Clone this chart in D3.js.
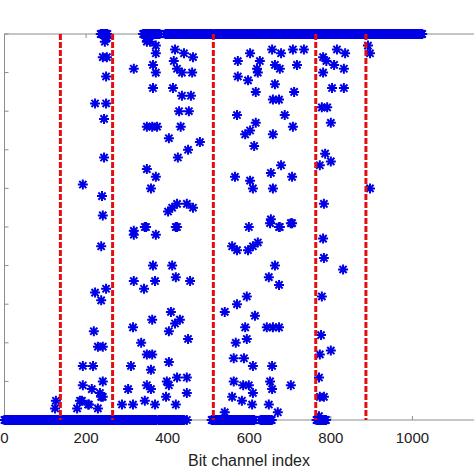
<!DOCTYPE html>
<html>
<head>
<meta charset="utf-8">
<script src="https://cdn.jsdelivr.net/npm/d3@7"></script>
<style>
  body { margin: 0; background: #fff; }
  text { font-family: "Liberation Sans", Arial, sans-serif; }
</style>
</head>
<body>
<div id="chart"></div>
<script>
// channel index ranges where error probability sits at 0 or 1
const zeroRanges = [[0, 372], [378, 440], [508, 612], [628, 655], [765, 788]];
const oneRanges = [[236, 252], [340, 380], [395, 510], [515, 1024]];

// scattered channels [index, probability]
const scatterPts = [
  [249,0.99],[241,0.94],[251,0.94],[249,0.89],[222,0.82],[249,0.82],[244,0.78],[244,0.68],[192,0.61],[239,0.58],[241,0.53],
  [317,0.91],[364,0.92],[371,0.90],[364,0.86],[349,0.76],[362,0.76],[374,0.76],[349,0.65],[371,0.63],[359,0.60],[344,0.50],[317,0.49],
  [349,0.98],[374,1.0],[371,0.97],[371,0.95],[413,0.86],[435,0.84],[457,0.84],[415,0.93],[423,0.91],[435,0.90],[460,0.90],[440,0.95],
  [462,0.94],[418,0.96],[428,0.80],[452,0.80],[432,0.76],[403,0.73],[479,0.72],[450,0.70],[425,0.68],[423,0.56],[401,0.54],[411,0.55],
  [447,0.56],[462,0.55],[420,0.50],
  [237,0.45],[222,0.33],[237,0.31],[249,0.34],[219,0.23],[229,0.19],[241,0.19],[192,0.14],[217,0.14],[192,0.09],[214,0.08],[241,0.10],
  [237,0.06],[241,0.06],[205,0.04],[190,0.05],
  [317,0.48],[347,0.50],[371,0.48],[423,0.50],[364,0.40],[411,0.40],[420,0.37],[317,0.36],[369,0.36],[342,0.34],[455,0.36],[408,0.28],
  [362,0.26],[315,0.24],[430,0.26],[418,0.25],[403,0.23],[335,0.20],[450,0.21],[349,0.17],[362,0.17],[310,0.14],[359,0.13],[403,0.15],
  [303,0.08],[349,0.09],[359,0.08],[398,0.10],[403,0.09],[423,0.11],[447,0.11],[447,0.07],[288,0.04],[315,0.04],[344,0.05],[369,0.04],
  [396,0.06],[420,0.04],[447,0.0],
  [572,1.0],[602,0.95],[626,0.93],[572,0.93],[619,0.91],[621,0.90],[572,0.89],[597,0.88],[616,0.85],[663,0.92],[675,0.91],[717,0.92],
  [656,0.96],[678,0.95],[707,0.96],[734,0.96],[663,0.87],[710,0.85],[658,0.83],[673,0.83],[687,0.79],[570,0.79],[616,0.77],[602,0.75],
  [590,0.74],[658,0.74],[707,0.76],[612,0.71],[565,0.63],[602,0.62],[609,0.60],[653,0.64],[678,0.66],[705,0.63],[658,0.60],[599,0.50],
  [653,0.52],[673,0.50],[702,0.51],
  [781,0.94],[789,0.93],[808,0.92],[832,0.91],[815,0.96],[835,0.95],[781,0.90],[803,0.86],[832,0.86],[778,0.81],[791,0.81],[800,0.77],
  [786,0.69],[800,0.67],[773,0.66],[783,0.56],
  [651,0.51],[675,0.50],[705,0.51],[558,0.45],[570,0.44],[597,0.44],[609,0.45],[621,0.46],[663,0.40],[648,0.37],[673,0.35],[594,0.32],
  [570,0.30],[540,0.28],[614,0.27],[590,0.24],[643,0.24],[658,0.24],[673,0.24],[594,0.21],[567,0.20],[562,0.16],[587,0.16],[609,0.14],
  [656,0.14],[562,0.10],[585,0.09],[599,0.09],[609,0.07],[651,0.10],[656,0.08],[702,0.09],[558,0.06],[582,0.05],[607,0.04],[648,0.04],
  [670,0.02],[540,0.02],
  [781,0.47],[783,0.42],[830,0.39],[778,0.32],[776,0.22],[773,0.17],[800,0.18],[771,0.11],[773,0.06],[783,0.06],[771,0.01],
  [896,0.60],[896,0.95],[891,0.97],
  [126,0.05],[124,0.03],[234,0.07],[185,0.05],[207,0.04],[178,0.03],[229,0.03],
  [244,1.0],[251,0.99],[246,0.98],[347,0.99],[362,1.0],[357,0.98]
];

const dividers = [137, 265, 512, 763, 886];
const xTicks = [0, 200, 400, 600, 800, 1000];
const yTicks = d3.range(0, 11).map(i => i / 10);

const width = 474, height = 474;
const x = d3.scaleLinear().domain([0, 1200]).range([4.5, 494]);
const y = d3.scaleLinear().domain([0, 1]).range([420, 34]);

const points = [];
zeroRanges.forEach(([a, b]) => { for (let i = a; i <= b; i++) points.push([i, 0]); });
oneRanges.forEach(([a, b]) => { for (let i = a; i <= b; i++) points.push([i, 1]); });
scatterPts.forEach(p => points.push(p));

const svg = d3.select("#chart").append("svg")
    .attr("width", width)
    .attr("height", height);

// box
const axisColor = "#8c8c8c";
svg.append("rect")
    .attr("x", x(0)).attr("y", y(1))
    .attr("width", x(1200) - x(0)).attr("height", y(0) - y(1))
    .attr("fill", "none").attr("stroke", axisColor).attr("stroke-width", 1);

const ticks = svg.append("g").attr("stroke", axisColor).attr("stroke-width", 1);
xTicks.forEach(t => {
  ticks.append("line").attr("x1", x(t)).attr("x2", x(t)).attr("y1", y(0)).attr("y2", y(0) - 4);
  ticks.append("line").attr("x1", x(t)).attr("x2", x(t)).attr("y1", y(1)).attr("y2", y(1) + 4);
});
yTicks.forEach(t => {
  ticks.append("line").attr("x1", x(0)).attr("x2", x(0) + 4).attr("y1", y(t)).attr("y2", y(t));
});

svg.append("g").selectAll("text")
  .data(xTicks)
  .join("text")
    .attr("x", d => x(d))
    .attr("y", 443)
    .attr("text-anchor", "middle")
    .attr("font-size", 15)
    .attr("fill", "#222")
    .text(d => d);

svg.append("text")
    .attr("x", 249).attr("y", 466)
    .attr("text-anchor", "middle")
    .attr("font-size", 16)
    .attr("fill", "#222")
    .text("Bit channel index");

// asterisk markers
const r = 5, d = r * 0.72;
const star = `M${-r},0H${r}M0,${-r}V${r}M${-d},${-d}L${d},${d}M${-d},${d}L${d},${-d}`;
svg.append("g")
    .attr("stroke", "#0000e6")
    .attr("stroke-width", 2)
    .attr("fill", "none")
  .selectAll("path")
  .data(points)
  .join("path")
    .attr("transform", p => `translate(${x(p[0])},${y(p[1])})`)
    .attr("d", star);

svg.append("g").selectAll("line")
  .data(dividers)
  .join("line")
    .attr("x1", v => x(v)).attr("x2", v => x(v))
    .attr("y1", y(1)).attr("y2", y(0))
    .attr("stroke", "#e01010")
    .attr("stroke-width", 3)
    .attr("stroke-dasharray", "6,2");
</script>
</body>
</html>
